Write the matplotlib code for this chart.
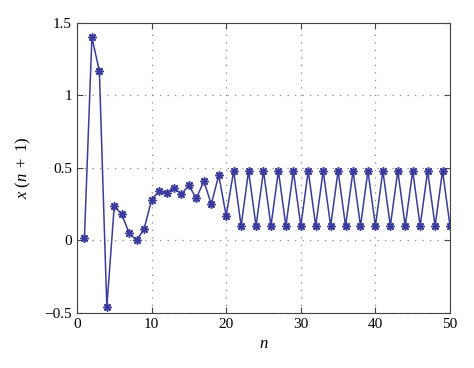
import matplotlib.pyplot as plt

plt.rcParams["font.family"] = "Liberation Serif"
plt.rcParams["mathtext.fontset"] = "custom"
plt.rcParams["mathtext.rm"] = "Liberation Serif"
plt.rcParams["mathtext.it"] = "Liberation Serif:italic"

# iterates
n_values = list(range(1, 51))
x_next = [
    0.02, 1.40, 1.17, -0.46, 0.24, 0.18, 0.05, 0.00, 0.08, 0.28,
    0.34, 0.33, 0.36, 0.32, 0.38, 0.29, 0.41, 0.25, 0.45, 0.17,
    0.48, 0.10, 0.48, 0.10, 0.48, 0.10, 0.48, 0.10, 0.48, 0.10,
    0.48, 0.10, 0.48, 0.10, 0.48, 0.10, 0.48, 0.10, 0.48, 0.10,
    0.48, 0.10, 0.48, 0.10, 0.48, 0.10, 0.48, 0.10, 0.48, 0.10,
]
x_ticks = [0, 10, 20, 30, 40, 50]
y_ticks = [-0.5, 0, 0.5, 1, 1.5]
y_tick_labels = ["\u22120.5", "0", "0.5", "1", "1.5"]

fig = plt.figure(figsize=(4.74, 3.68), dpi=100)
ax = fig.add_axes([0.1624, 0.1495, 0.787, 0.788])

ax.plot(
    n_values,
    x_next,
    color="#3b3b9c",
    linewidth=1.1,
    marker=(8, 2, 0),
    markersize=6,
    markeredgewidth=1.1,
)

ax.set_xlim(0, 50)
ax.set_ylim(-0.5, 1.5)
ax.set_xticks(x_ticks)
ax.set_yticks(y_ticks)
ax.set_yticklabels(y_tick_labels)
ax.tick_params(direction="in", top=True, right=True, labelsize=11, length=4,
               color="#444444")
ax.grid(True, linestyle=(0, (1, 5)), color="#888888", linewidth=0.9)
for spine in ax.spines.values():
    spine.set_color("#444444")

ax.set_xlabel(r"$n$", fontsize=12)
ax.set_ylabel(r"$x\ (n\ +\ 1)$", fontsize=12, labelpad=8)

fig.savefig("out.png", dpi=100)
